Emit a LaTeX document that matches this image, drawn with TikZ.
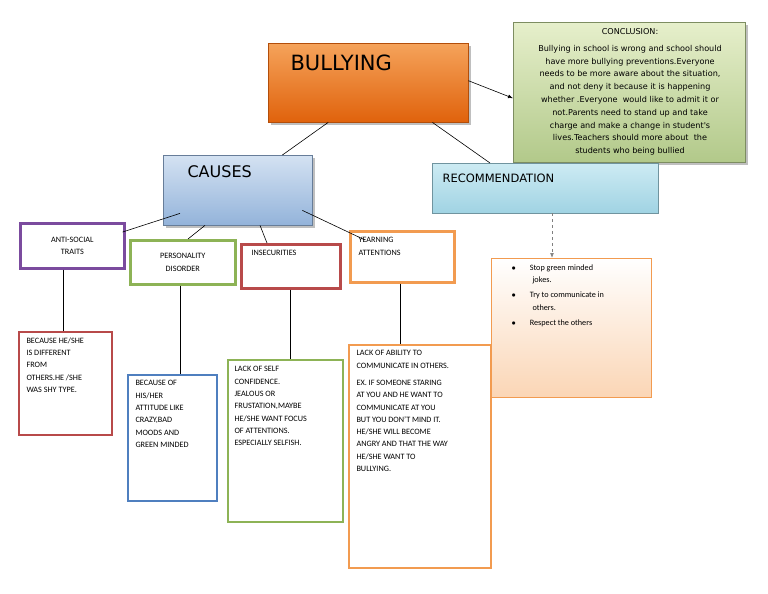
\documentclass[tikz,border=0pt]{standalone}
\usepackage{fontspec}
\setmainfont{Carlito}
\newfontfamily\dejavu{DejaVu Sans}
\usetikzlibrary{shadows,arrows.meta}
\begin{document}
\begin{tikzpicture}[x=1pt,y=-1pt,
 small/.style={font=\fontsize{8.2}{12.3}\selectfont},
 cbox/.style={line width=2.6pt,fill=white},
 tbox/.style={line width=1.6pt,fill=white},
 conn/.style={line width=0.6pt}]
\useasboundingbox (0,0) rectangle (768,594);
\definecolor{orA}{HTML}{F5A35B}\definecolor{orB}{HTML}{E0620C}
\definecolor{gA}{HTML}{E6EFCB}\definecolor{gB}{HTML}{B2C98A}
\definecolor{bA}{HTML}{D4E2F2}\definecolor{bB}{HTML}{93B3DA}
\definecolor{cyA}{HTML}{CDEBF3}\definecolor{cyB}{HTML}{A0D3E3}
\definecolor{pur}{HTML}{7B4B9E}\definecolor{grn}{HTML}{8DB356}
\definecolor{red}{HTML}{B84A4A}\definecolor{org}{HTML}{F29B50}
\definecolor{blu}{HTML}{4F7FBF}
% main boxes
\node[draw=orB!80!black,drop shadow,top color=orA,bottom color=orB,minimum width=200,minimum height=79,anchor=north west,inner sep=0] (bul) at (268,43) {};
\node[anchor=west,font=\fontsize{21}{24}\selectfont\dejavu] at (287,63) {BULLYING};
\node[draw=gB!70!black,drop shadow,top color=gA,bottom color=gB,minimum width=232,minimum height=140,anchor=north west,inner sep=0] (con) at (513,22) {};
\begin{scope}
\clip (514,23) rectangle (744,160);
\node[anchor=north,align=center,font=\fontsize{8.1}{12.8}\selectfont\dejavu] at (630,25) {CONCLUSION:\\[4pt]
Bullying in school is wrong and school should\\ have more bullying preventions.Everyone\\ needs to be more aware about the situation,\\ and not deny it because it is happening\\ whether .Everyone\ \ would like to admit it or\\ not.Parents need to stand up and take\\ charge and make a change in student's\\ lives.Teachers should more about\ \ the\\ students who being bullied};
\end{scope}
\node[draw=bB!70!black,drop shadow,top color=bA,bottom color=bB,minimum width=149,minimum height=70,anchor=north west,inner sep=0] (cau) at (163,155) {};
\node[anchor=west,font=\fontsize{16}{18}\selectfont\dejavu] at (184,172) {CAUSES};
\node[draw=cyB!70!black,top color=cyA,bottom color=cyB,minimum width=226,minimum height=50,anchor=north west,inner sep=0] (rec) at (432,163) {};
\node[anchor=west,font=\fontsize{11.5}{14}\selectfont\dejavu] at (439,178) {RECOMMENDATION};
% cause boxes
\node[cbox,draw=pur,minimum width=104,minimum height=45,anchor=north west,align=center,small] (anti) at (19,222) {ANTI-SOCIAL\\TRAITS};
\node[cbox,draw=grn,minimum width=105,minimum height=44,anchor=north west,align=center,small] (pers) at (129,239) {PERSONALITY\\DISORDER};
\node[cbox,draw=red,minimum width=99,minimum height=44,anchor=north west,small] (ins) at (240,243) {};
\node[anchor=north west,small] at (248,247) {INSECURITIES};
\node[cbox,draw=org,minimum width=104,minimum height=51,anchor=north west,small] (yea) at (349,230) {};
\node[anchor=north west,align=left,small] at (355,234) {YEARNING\\ATTENTIONS};
% rec list
\node[draw=org,top color=white,bottom color=orA!45,minimum width=160,minimum height=139,anchor=north west,inner sep=0] (list) at (491,258) {};
\node[anchor=north west,align=left,small] at (508,261) {$\bullet$\hspace{14pt}Stop green minded\\\hspace{21pt}jokes.\\[3pt]$\bullet$\hspace{14pt}Try to communicate in\\\hspace{21pt}others.\\[3pt]$\bullet$\hspace{14pt}Respect the others};
% detail boxes
\node[tbox,draw=red,minimum width=93,minimum height=103,anchor=north west,inner sep=0] (d1) at (18,331) {};
\node[anchor=north west,align=left,small] at (23,334) {BECAUSE HE/SHE\\IS DIFFERENT\\FROM\\OTHERS.HE /SHE\\WAS SHY TYPE.};
\node[tbox,draw=blu,minimum width=89,minimum height=126,anchor=north west,inner sep=0] (d2) at (127,374) {};
\node[anchor=north west,align=left,small] at (132,377) {BECAUSE OF\\HIS/HER\\ATTITUDE LIKE\\CRAZY,BAD\\MOODS AND\\GREEN MINDED};
\node[tbox,draw=grn,minimum width=115,minimum height=162,anchor=north west,inner sep=0] (d3) at (227,359) {};
\node[anchor=north west,align=left,small] at (231,363) {LACK OF SELF\\CONFIDENCE.\\JEALOUS OR\\FRUSTATION,MAYBE\\HE/SHE WANT FOCUS\\OF ATTENTIONS.\\ESPECIALLY SELFISH.};
\node[tbox,draw=org,minimum width=142,minimum height=223,anchor=north west,inner sep=0] (d4) at (348,344) {};
\node[anchor=north west,align=left,small] at (353,347) {LACK OF ABILITY TO\\COMMUNICATE IN OTHERS.\\[5pt]EX. IF SOMEONE STARING\\AT YOU AND HE WANT TO\\COMMUNICATE AT YOU\\BUT YOU DON'T MIND IT.\\HE/SHE WILL BECOME\\ANGRY AND THAT THE WAY\\HE/SHE WANT TO\\BULLYING.};
% connectors
\draw[conn] ([xshift=-40pt]bul.south) -- ([xshift=-30pt]cau.north east);
\draw[conn] ([xshift=-36pt]bul.south east) -- ([xshift=58pt]rec.north west);
\draw[conn,-{Latex[length=5pt]}] (bul.east) ++(0,-2) -- ([yshift=-6pt]con.west);
\draw[conn,dashed,gray,-{Latex[length=5pt]}] ([xshift=120pt]rec.south west) -- ([xshift=61pt]list.north west);
\draw[conn] ([xshift=17pt,yshift=12pt]cau.south west) -- ([xshift=-3pt,yshift=-10pt]anti.north east);
\draw[conn] ([xshift=42pt]cau.south west) -- ([xshift=59pt]pers.north west);
\draw[conn] ([xshift=97pt]cau.south west) -- ([xshift=27pt]ins.north west);
\draw[conn] ([xshift=-10pt,yshift=15pt]cau.south east) -- ([xshift=16pt,yshift=-10pt]yea.north west);
\draw[conn] ([xshift=44pt]anti.south west) -- ([xshift=45pt]d1.north west);
\draw[conn] ([xshift=51pt]pers.south west) -- ([xshift=53pt]d2.north west);
\draw[conn] ([xshift=50pt]ins.south west) -- ([xshift=63pt]d3.north west);
\draw[conn] ([xshift=51pt]yea.south west) -- ([xshift=52pt]d4.north west);
\end{tikzpicture}
\end{document}
